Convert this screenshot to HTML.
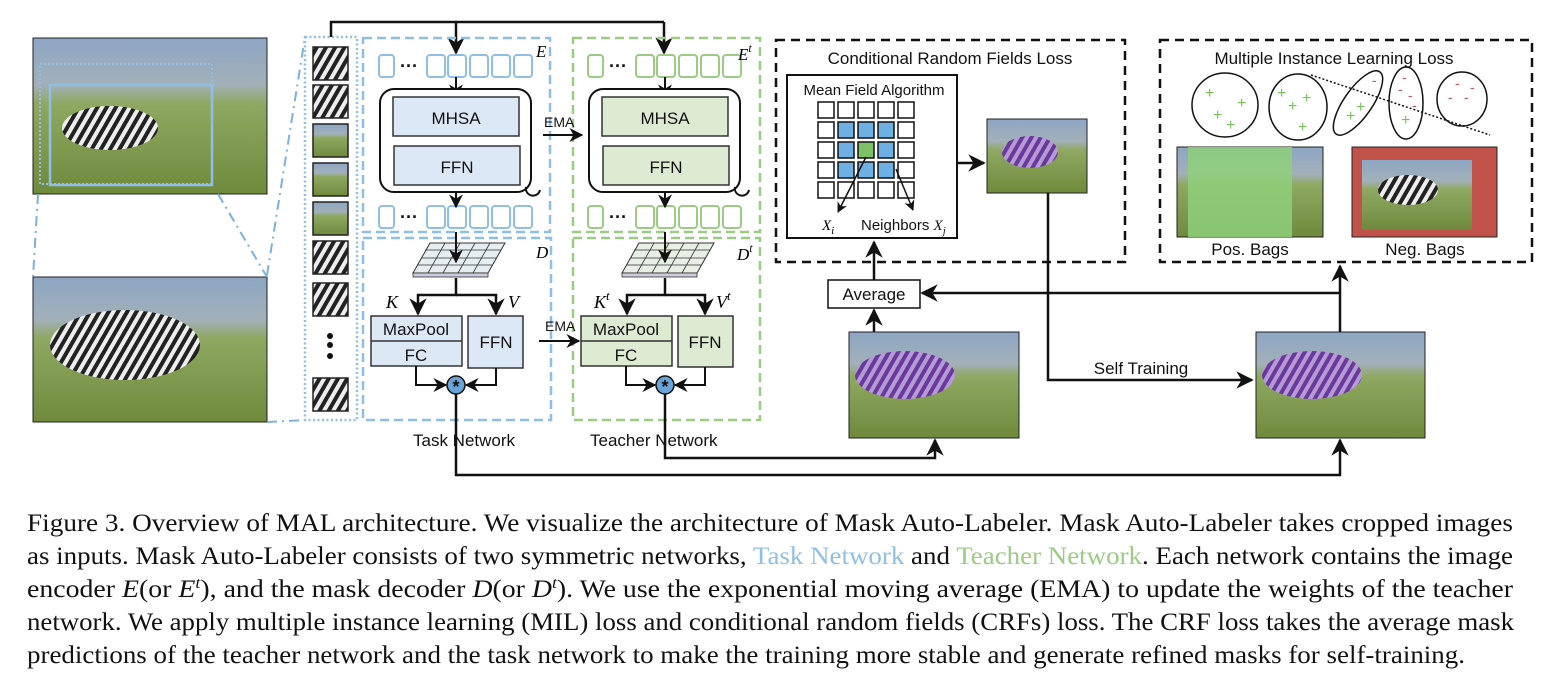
<!DOCTYPE html>
<html><head><meta charset="utf-8"><style>
html,body{margin:0;padding:0;background:#fff;width:1557px;height:698px;overflow:hidden}
svg{display:block}
.s{font-family:"Liberation Sans",sans-serif;fill:#111}
.c{font-family:"Liberation Serif",serif;font-size:25px;fill:#111}
</style></head><body>
<svg width="1557" height="698" viewBox="0 0 1557 698" xmlns="http://www.w3.org/2000/svg">
<defs>
<linearGradient id="ph" x1="0" y1="0" x2="0" y2="1">
<stop offset="0" stop-color="#8ea6c4"/><stop offset="0.3" stop-color="#a2b0b8"/><stop offset="0.42" stop-color="#8fa862"/><stop offset="1" stop-color="#6f8a3c"/></linearGradient>
<marker id="a" viewBox="0 0 10 10" refX="9" refY="5" markerWidth="7" markerHeight="7" orient="auto-start-reverse"><path d="M0,0 L10,5 L0,10 L3,5 z" fill="#111"/></marker>
<pattern id="zb" width="8" height="8" patternUnits="userSpaceOnUse" patternTransform="rotate(30)"><rect width="8" height="8" fill="#eee"/><rect width="4" height="8" fill="#222"/></pattern>
<pattern id="zp" width="8" height="8" patternUnits="userSpaceOnUse" patternTransform="rotate(30)"><rect width="8" height="8" fill="#b59ad8"/><rect width="4" height="8" fill="#6a3a9a"/></pattern>
</defs>

<rect x="33" y="38" width="234" height="156" fill="url(#ph)" stroke="#222"/>
<ellipse cx="110" cy="128" rx="48" ry="22" fill="url(#zb)"/>
<rect x="50" y="85" width="162" height="100" fill="none" stroke="#8fbfe6" stroke-width="2.5"/>
<rect x="40" y="64" width="172" height="120" fill="none" stroke="#8fbfe6" stroke-width="2" stroke-dasharray="2,2"/>
<rect x="33" y="277" width="234" height="145" fill="url(#ph)" stroke="#222"/>
<ellipse cx="125" cy="345" rx="75" ry="35" fill="url(#zb)"/>
<g stroke="#7eb0d8" stroke-width="2" stroke-dasharray="10,5,2,5" fill="none">
<line x1="38" y1="194" x2="33" y2="277"/><line x1="218" y1="194" x2="267" y2="277"/>
<line x1="267" y1="275" x2="305" y2="37"/><line x1="267" y1="422" x2="305" y2="420"/>
</g>
<rect x="305" y="37" width="52" height="383" fill="none" stroke="#8fbfe6" stroke-width="2.5" stroke-dasharray="2,2.5"/>
<g stroke="#222" stroke-width="1.5">
<rect x="313" y="47" width="35" height="33" fill="url(#zb)"/><rect x="313" y="85" width="35" height="33" fill="url(#zb)"/>
<rect x="313" y="124" width="35" height="33" fill="url(#ph)"/><rect x="313" y="163" width="35" height="33" fill="url(#ph)"/>
<rect x="313" y="202" width="35" height="33" fill="url(#ph)"/><rect x="313" y="241" width="35" height="33" fill="url(#zb)"/>
<rect x="313" y="283" width="35" height="33" fill="url(#zb)"/><rect x="313" y="378" width="35" height="33" fill="url(#zb)"/>
</g>
<circle cx="330" cy="336" r="3" fill="#111"/><circle cx="330" cy="345" r="3" fill="#111"/><circle cx="330" cy="356" r="3" fill="#111"/>

<polyline points="331,37 331,22 664,22" fill="none" stroke="#111" stroke-width="2.5"/>
<line x1="456" y1="22" x2="456" y2="53" stroke="#111" stroke-width="2.5" marker-end="url(#a)"/>
<line x1="664" y1="22" x2="664" y2="53" stroke="#111" stroke-width="2.5" marker-end="url(#a)"/>

<g>
<rect x="363" y="38" width="187" height="194" fill="none" stroke="#8fbfe6" stroke-width="2.5" stroke-dasharray="9,5"/>
<rect x="363" y="238" width="188" height="182" fill="none" stroke="#8fbfe6" stroke-width="2.5" stroke-dasharray="9,5"/>
<g fill="none" stroke="#8fbfe6" stroke-width="2">
<rect x="379" y="55" width="15" height="22" rx="3"/><rect x="427" y="55" width="18" height="22" rx="3"/><rect x="448" y="55" width="18" height="22" rx="3"/><rect x="470" y="55" width="18" height="22" rx="3"/><rect x="492" y="55" width="18" height="22" rx="3"/><rect x="514" y="55" width="18" height="22" rx="3"/>
<rect x="379" y="206" width="15" height="22" rx="3"/><rect x="427" y="206" width="18" height="22" rx="3"/><rect x="448" y="206" width="18" height="22" rx="3"/><rect x="470" y="206" width="18" height="22" rx="3"/><rect x="492" y="206" width="18" height="22" rx="3"/><rect x="514" y="206" width="18" height="22" rx="3"/>
</g>
<text x="400" y="72" class="s" font-size="18" font-weight="bold">···</text>
<text x="400" y="223" class="s" font-size="18" font-weight="bold">···</text>
<text x="536" y="57" font-family="Liberation Serif" font-style="italic" font-size="17">E</text>
<text x="536" y="258" font-family="Liberation Serif" font-style="italic" font-size="17">D</text>
<line x1="456" y1="77" x2="456" y2="97" stroke="#111" stroke-width="2" marker-end="url(#a)"/>
<rect x="380" y="89" width="151" height="103" rx="14" fill="#fff" stroke="#111" stroke-width="2"/>
<rect x="393" y="97" width="126" height="39" fill="#dce8f6" stroke="#333" stroke-width="1.5"/>
<rect x="394" y="146" width="126" height="39" fill="#dce8f6" stroke="#333" stroke-width="1.5"/>
<text x="456" y="124" class="s" font-size="17" text-anchor="middle">MHSA</text>
<text x="457" y="173" class="s" font-size="17" text-anchor="middle">FFN</text>
<path d="M526,187 A7,7 0 1 0 540,190" fill="none" stroke="#111" stroke-width="2"/>
<line x1="456" y1="192" x2="456" y2="207" stroke="#111" stroke-width="2" marker-end="url(#a)"/>
<polygon points="430,243 505,243 488,273 413,273" fill="#e6eef2" stroke="#333"/>
<rect x="413" y="273" width="75" height="4" fill="#ccd" stroke="#333" stroke-width="0.8"/>
<g stroke="#333" stroke-width="0.8">
<line x1="445" y1="243" x2="428" y2="273"/><line x1="460" y1="243" x2="443" y2="273"/><line x1="475" y1="243" x2="458" y2="273"/><line x1="490" y1="243" x2="473" y2="273"/>
<line x1="425" y1="250" x2="501" y2="250"/><line x1="421" y1="258" x2="497" y2="258"/><line x1="417" y1="265" x2="492" y2="265"/>
</g>
<line x1="456" y1="232" x2="456" y2="262" stroke="#111" stroke-width="2" marker-end="url(#a)"/>
<polyline points="456,278 456,295 418,295 418,314" fill="none" stroke="#111" stroke-width="2.5" marker-end="url(#a)"/>
<polyline points="456,295 496,295 496,314" fill="none" stroke="#111" stroke-width="2.5" marker-end="url(#a)"/>
<text x="386" y="308" font-family="Liberation Serif" font-style="italic" font-size="18">K</text>
<text x="508" y="308" font-family="Liberation Serif" font-style="italic" font-size="18">V</text>
<rect x="371" y="316" width="91" height="50" fill="#dce8f6" stroke="#333" stroke-width="1.5"/>
<line x1="371" y1="341" x2="462" y2="341" stroke="#333" stroke-width="1.5"/>
<rect x="468" y="316" width="55" height="52" fill="#dce8f6" stroke="#333" stroke-width="1.5"/>
<text x="416" y="335" class="s" font-size="17" text-anchor="middle">MaxPool</text>
<text x="416" y="361" class="s" font-size="17" text-anchor="middle">FC</text>
<text x="496" y="348" class="s" font-size="17" text-anchor="middle">FFN</text>
<polyline points="416,366 416,385 446,385" fill="none" stroke="#111" stroke-width="2" marker-end="url(#a)"/>
<polyline points="496,368 496,385 466,385" fill="none" stroke="#111" stroke-width="2" marker-end="url(#a)"/>
<circle cx="456" cy="385" r="9" fill="#6aa3d8" stroke="#111" stroke-width="1.5"/>
<text x="456" y="393" class="s" font-size="18" text-anchor="middle" font-weight="bold">*</text>
</g>
<g>
<rect x="573" y="38" width="187" height="194" fill="none" stroke="#9ccb84" stroke-width="2.5" stroke-dasharray="9,5"/>
<rect x="573" y="238" width="187" height="182" fill="none" stroke="#9ccb84" stroke-width="2.5" stroke-dasharray="9,5"/>
<g fill="none" stroke="#9ccb84" stroke-width="2">
<rect x="588" y="55" width="15" height="22" rx="3"/><rect x="636" y="55" width="18" height="22" rx="3"/><rect x="657" y="55" width="18" height="22" rx="3"/><rect x="679" y="55" width="18" height="22" rx="3"/><rect x="701" y="55" width="18" height="22" rx="3"/><rect x="723" y="55" width="18" height="22" rx="3"/>
<rect x="588" y="206" width="15" height="22" rx="3"/><rect x="636" y="206" width="18" height="22" rx="3"/><rect x="657" y="206" width="18" height="22" rx="3"/><rect x="679" y="206" width="18" height="22" rx="3"/><rect x="701" y="206" width="18" height="22" rx="3"/><rect x="723" y="206" width="18" height="22" rx="3"/>
</g>
<text x="609" y="72" class="s" font-size="18" font-weight="bold">···</text>
<text x="609" y="223" class="s" font-size="18" font-weight="bold">···</text>
<text x="738" y="60" font-family="Liberation Serif" font-style="italic" font-size="17">E<tspan dy="-8" font-size="12">t</tspan></text>
<text x="737" y="260" font-family="Liberation Serif" font-style="italic" font-size="17">D<tspan dy="-8" font-size="12">t</tspan></text>
<line x1="665" y1="77" x2="665" y2="97" stroke="#111" stroke-width="2" marker-end="url(#a)"/>
<rect x="589" y="89" width="151" height="103" rx="14" fill="#fff" stroke="#111" stroke-width="2"/>
<rect x="602" y="97" width="126" height="39" fill="#ddebd3" stroke="#333" stroke-width="1.5"/>
<rect x="603" y="146" width="126" height="39" fill="#ddebd3" stroke="#333" stroke-width="1.5"/>
<text x="665" y="124" class="s" font-size="17" text-anchor="middle">MHSA</text>
<text x="666" y="173" class="s" font-size="17" text-anchor="middle">FFN</text>
<path d="M735,187 A7,7 0 1 0 749,190" fill="none" stroke="#111" stroke-width="2"/>
<line x1="665" y1="192" x2="665" y2="207" stroke="#111" stroke-width="2" marker-end="url(#a)"/>
<polygon points="639,243 714,243 697,273 622,273" fill="#e8efe4" stroke="#333"/>
<rect x="622" y="273" width="75" height="4" fill="#ccd" stroke="#333" stroke-width="0.8"/>
<g stroke="#333" stroke-width="0.8">
<line x1="654" y1="243" x2="637" y2="273"/><line x1="669" y1="243" x2="652" y2="273"/><line x1="684" y1="243" x2="667" y2="273"/><line x1="699" y1="243" x2="682" y2="273"/>
<line x1="634" y1="250" x2="710" y2="250"/><line x1="630" y1="258" x2="706" y2="258"/><line x1="626" y1="265" x2="701" y2="265"/>
</g>
<line x1="665" y1="232" x2="665" y2="262" stroke="#111" stroke-width="2" marker-end="url(#a)"/>
<polyline points="665,278 665,295 627,295 627,314" fill="none" stroke="#111" stroke-width="2.5" marker-end="url(#a)"/>
<polyline points="665,295 705,295 705,314" fill="none" stroke="#111" stroke-width="2.5" marker-end="url(#a)"/>
<text x="594" y="308" font-family="Liberation Serif" font-style="italic" font-size="18">K<tspan dy="-8" font-size="13">t</tspan></text>
<text x="716" y="308" font-family="Liberation Serif" font-style="italic" font-size="18">V<tspan dy="-8" font-size="13">t</tspan></text>
<rect x="581" y="316" width="91" height="50" fill="#ddebd3" stroke="#333" stroke-width="1.5"/>
<line x1="581" y1="341" x2="672" y2="341" stroke="#333" stroke-width="1.5"/>
<rect x="678" y="316" width="55" height="51" fill="#ddebd3" stroke="#333" stroke-width="1.5"/>
<text x="626" y="335" class="s" font-size="17" text-anchor="middle">MaxPool</text>
<text x="626" y="361" class="s" font-size="17" text-anchor="middle">FC</text>
<text x="705" y="348" class="s" font-size="17" text-anchor="middle">FFN</text>
<polyline points="626,366 626,385 655,385" fill="none" stroke="#111" stroke-width="2" marker-end="url(#a)"/>
<polyline points="705,367 705,385 675,385" fill="none" stroke="#111" stroke-width="2" marker-end="url(#a)"/>
<circle cx="665" cy="385" r="9" fill="#6aa3d8" stroke="#111" stroke-width="1.5"/>
<text x="665" y="393" class="s" font-size="18" text-anchor="middle" font-weight="bold">*</text>
</g>
<text x="544" y="127" class="s" font-size="14">EMA</text>
<line x1="543" y1="135" x2="582" y2="135" stroke="#111" stroke-width="2" marker-end="url(#a)"/>
<text x="545" y="331" class="s" font-size="14">EMA</text>
<line x1="539" y1="341" x2="579" y2="341" stroke="#111" stroke-width="2" marker-end="url(#a)"/>
<text x="413" y="446" class="s" font-size="17">Task  Network</text>
<text x="590" y="446" class="s" font-size="17">Teacher  Network</text>

<polyline points="456,394 456,475 1340,475 1340,440" fill="none" stroke="#111" stroke-width="2.5" marker-end="url(#a)"/>
<polyline points="665,394 665,458 935,458 935,440" fill="none" stroke="#111" stroke-width="2.5" marker-end="url(#a)"/>

<rect x="776" y="40" width="349" height="222" fill="none" stroke="#111" stroke-width="2.5" stroke-dasharray="9,6"/>
<text x="950" y="64" class="s" font-size="17" text-anchor="middle">Conditional Random Fields Loss</text>
<rect x="787" y="75" width="170" height="163" fill="#fff" stroke="#111" stroke-width="2"/>
<text x="874" y="95" class="s" font-size="15" text-anchor="middle">Mean Field Algorithm</text>
<g stroke="#111" stroke-width="1.5">
<g fill="#fff">
<rect x="818" y="102" width="16" height="16"/><rect x="838" y="102" width="16" height="16"/><rect x="858" y="102" width="16" height="16"/><rect x="878" y="102" width="16" height="16"/><rect x="898" y="102" width="16" height="16"/>
<rect x="818" y="122" width="16" height="16"/><rect x="898" y="122" width="16" height="16"/>
<rect x="818" y="142" width="16" height="16"/><rect x="898" y="142" width="16" height="16"/>
<rect x="818" y="162" width="16" height="16"/><rect x="898" y="162" width="16" height="16"/>
<rect x="818" y="182" width="16" height="16"/><rect x="838" y="182" width="16" height="16"/><rect x="858" y="182" width="16" height="16"/><rect x="878" y="182" width="16" height="16"/><rect x="898" y="182" width="16" height="16"/>
</g>
<g fill="#6fb0e4">
<rect x="838" y="122" width="16" height="16"/><rect x="858" y="122" width="16" height="16"/><rect x="878" y="122" width="16" height="16"/>
<rect x="838" y="142" width="16" height="16"/><rect x="878" y="142" width="16" height="16"/>
<rect x="838" y="162" width="16" height="16"/><rect x="858" y="162" width="16" height="16"/><rect x="878" y="162" width="16" height="16"/>
</g>
<rect x="858" y="142" width="16" height="16" fill="#7fc167"/>
</g>
<line x1="866" y1="157" x2="838" y2="212" stroke="#111" stroke-width="1.5" marker-end="url(#a)"/>
<line x1="896" y1="169" x2="913" y2="210" stroke="#111" stroke-width="1.5" marker-end="url(#a)"/>
<text x="822" y="230" font-family="Liberation Serif" font-style="italic" font-size="15">X<tspan dy="4" font-size="11">i</tspan></text>
<text x="861" y="230" class="s" font-size="15">Neighbors <tspan font-family="Liberation Serif" font-style="italic">X</tspan><tspan dy="4" font-size="11" font-family="Liberation Serif" font-style="italic">j</tspan></text>
<line x1="957" y1="163" x2="984" y2="163" stroke="#111" stroke-width="2.5" marker-end="url(#a)"/>
<rect x="987" y="119" width="100" height="74" fill="url(#ph)" stroke="#222"/>
<ellipse cx="1030" cy="152" rx="28" ry="16" fill="url(#zp)"/>

<rect x="828" y="280" width="92" height="28" fill="#fff" stroke="#111" stroke-width="1.5"/>
<text x="874" y="300" class="s" font-size="17" text-anchor="middle">Average</text>
<line x1="874" y1="280" x2="874" y2="242" stroke="#111" stroke-width="2.5" marker-end="url(#a)"/>
<line x1="874" y1="332" x2="874" y2="310" stroke="#111" stroke-width="2.5" marker-end="url(#a)"/>
<rect x="849" y="332" width="170" height="106" fill="url(#ph)" stroke="#222"/>
<ellipse cx="905" cy="375" rx="50" ry="24" fill="url(#zp)"/>
<polyline points="1048,193 1048,380 1252,380" fill="none" stroke="#111" stroke-width="2.5" marker-end="url(#a)"/>
<text x="1141" y="374" class="s" font-size="17" text-anchor="middle">Self Training</text>
<rect x="1256" y="332" width="169" height="106" fill="url(#ph)" stroke="#222"/>
<ellipse cx="1312" cy="375" rx="50" ry="24" fill="url(#zp)"/>
<line x1="1340" y1="332" x2="1340" y2="266" stroke="#111" stroke-width="2.5" marker-end="url(#a)"/>
<line x1="1340" y1="293" x2="922" y2="293" stroke="#111" stroke-width="2.5" marker-end="url(#a)"/>

<rect x="1160" y="40" width="372" height="222" fill="none" stroke="#111" stroke-width="2.5" stroke-dasharray="9,6"/>
<text x="1334" y="64" class="s" font-size="17" text-anchor="middle">Multiple Instance Learning Loss</text>
<g fill="none" stroke="#111" stroke-width="1.5">
<ellipse cx="1225" cy="105" rx="33" ry="32"/>
<ellipse cx="1298" cy="107" rx="29" ry="33"/>
<ellipse cx="1358" cy="103" rx="14" ry="38" transform="rotate(35 1358 103)"/>
<ellipse cx="1406" cy="103" rx="17" ry="36"/>
<ellipse cx="1462" cy="99" rx="25" ry="27"/>
</g>
<line x1="1311" y1="75" x2="1490" y2="135" stroke="#111" stroke-width="1.5" stroke-dasharray="2,2"/>
<g class="s" font-size="16" style="fill:#7cc15e">
<text x="1205" y="98">+</text><text x="1237" y="108">+</text><text x="1213" y="120">+</text><text x="1226" y="130">+</text>
<text x="1277" y="98">+</text><text x="1288" y="111">+</text><text x="1302" y="103">+</text><text x="1298" y="132">+</text>
<text x="1346" y="121">+</text><text x="1356" y="112">+</text><text x="1401" y="125">+</text>
</g>
<g class="s" font-size="14" style="fill:#d05050">
<text x="1372" y="85">-</text><text x="1402" y="82">-</text><text x="1398" y="94">-</text><text x="1408" y="100">-</text><text x="1412" y="110">-</text>
<text x="1455" y="88">-</text><text x="1470" y="92">-</text><text x="1448" y="102">-</text><text x="1464" y="102">-</text>
</g>
<rect x="1177" y="147" width="146" height="90" fill="url(#ph)" stroke="#222"/>
<rect x="1188" y="147" width="104" height="90" fill="#8ed07a" opacity="0.85"/>
<rect x="1352" y="147" width="145" height="90" fill="#c0524a" stroke="#222"/>
<rect x="1362" y="160" width="110" height="70" fill="url(#ph)"/>
<ellipse cx="1408" cy="190" rx="30" ry="15" fill="url(#zb)"/>
<text x="1250" y="255" class="s" font-size="17" text-anchor="middle">Pos. Bags</text>
<text x="1425" y="255" class="s" font-size="17" text-anchor="middle">Neg. Bags</text>

<text class="c" x="27" y="531" textLength="1486" lengthAdjust="spacingAndGlyphs">Figure 3. Overview of MAL architecture. We visualize the architecture of Mask Auto-Labeler. Mask Auto-Labeler takes cropped images</text>
<text class="c" x="27" y="564" textLength="1486" lengthAdjust="spacingAndGlyphs">as inputs. Mask Auto-Labeler consists of two symmetric networks, <tspan style="fill:#8fbfe6">Task Network</tspan> and <tspan style="fill:#9ccb84">Teacher Network</tspan>. Each network contains the image</text>
<text class="c" x="27" y="597" textLength="1486" lengthAdjust="spacingAndGlyphs">encoder <tspan font-style="italic">E</tspan>(or <tspan font-style="italic">E</tspan><tspan dy="-9" font-size="16" font-style="italic">t</tspan><tspan dy="9">), and the mask decoder </tspan><tspan font-style="italic">D</tspan>(or <tspan font-style="italic">D</tspan><tspan dy="-9" font-size="16" font-style="italic">t</tspan><tspan dy="9">). We use the exponential moving average (EMA) to update the weights of the teacher</tspan></text>
<text class="c" x="27" y="630" textLength="1487" lengthAdjust="spacingAndGlyphs">network. We apply multiple instance learning (MIL) loss and conditional random fields (CRFs) loss. The CRF loss takes the average mask</text>
<text class="c" x="27" y="663" textLength="1438" lengthAdjust="spacingAndGlyphs">predictions of the teacher network and the task network to make the training more stable and generate refined masks for self-training.</text>
</svg>
</body></html>
